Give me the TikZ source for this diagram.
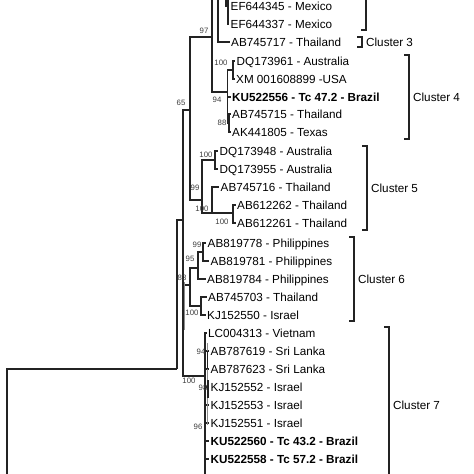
\documentclass[tikz,border=0pt]{standalone}
\usepackage{fontspec}
\setmainfont{Liberation Sans}
\usetikzlibrary{positioning}
\definecolor{treeline}{RGB}{35,35,35}
\definecolor{bootgray}{RGB}{60,60,60}
\tikzset{
  leaf/.style={
    anchor=west,
    inner xsep=1.5pt,
    inner ysep=0pt,
    text height=8.3pt,
    text depth=0pt,
    font=\fontsize{11.7}{13}\selectfont
  },
  brazilleaf/.style={leaf,font=\fontsize{11.7}{13}\selectfont\bfseries},
  boot/.style={inner sep=0pt,text=bootgray,font=\fontsize{7.8}{9}\selectfont},
  clusterlabel/.style={
    anchor=west,
    inner sep=0pt,
    text height=8.3pt,
    text depth=0pt,
    font=\fontsize{11.7}{13}\selectfont
  },
  branch/.style={line width=1.2pt,draw=treeline},
  overlap/.style={line width=1.6pt,draw=black!45},
  bracket/.style={line width=1.2pt,draw=treeline}
}
\newcommand{\clusterbracket}[5]{%
  \draw[bracket] (#1-5,#2) -- (#1,#2) -- (#1,#3) -- (#1-5,#3);
  \node[clusterlabel] (#4) at (#1+4,{(#2+#3)/2}) {#5};
}

\begin{document}
\begin{tikzpicture}[x=1pt,y=-1pt]
  \useasboundingbox (0,0) rectangle (474,474);

  % leaves
  \node[leaf] (ef45) at (229,6) {EF644345 - Mexico};
  \node[leaf] (ef37) at (229,24) {EF644337 - Mexico};
  \node[leaf] (ab17) at (229.5,42) {AB745717 - Thailand};
  \node[leaf] (dq61) at (235,61) {DQ173961 - Australia};
  \node[leaf] (xm99) at (234.5,79) {XM 001608899 -USA};
  \node[brazilleaf] (ku56) at (230.5,97) {KU522556 - Tc 47.2 - Brazil};
  \node[leaf] (ab15) at (230.5,114) {AB745715 - Thailand};
  \node[leaf] (ak05) at (230.5,132) {AK441805 - Texas};
  \node[leaf] (dq48) at (218,151) {DQ173948 - Australia};
  \node[leaf] (dq55) at (218,169) {DQ173955 - Australia};
  \node[leaf] (ab16) at (219,187) {AB745716 - Thailand};
  \node[leaf] (ab62) at (235.5,205) {AB612262 - Thailand};
  \node[leaf] (ab61) at (235.5,223) {AB612261 - Thailand};
  \node[leaf] (ab78) at (206,243) {AB819778 - Philippines};
  \node[leaf] (ab81) at (209,261) {AB819781 - Philippines};
  \node[leaf] (ab84) at (205.5,279) {AB819784 - Philippines};
  \node[leaf] (ab03) at (206.5,297) {AB745703 - Thailand};
  \node[leaf] (kj50) at (205.5,315) {KJ152550 - Israel};
  \node[leaf] (lc13) at (206.5,333) {LC004313 - Vietnam};
  \node[leaf] (ab19) at (209,351) {AB787619 - Sri Lanka};
  \node[leaf] (ab23) at (209,369) {AB787623 - Sri Lanka};
  \node[leaf] (kj52) at (209,387) {KJ152552 - Israel};
  \node[leaf] (kj53) at (209,405) {KJ152553 - Israel};
  \node[leaf] (kj51) at (209,423) {KJ152551 - Israel};
  \node[brazilleaf] (ku60) at (209,441) {KU522560 - Tc 43.2 - Brazil};
  \node[brazilleaf] (ku58) at (209,459) {KU522558 - Tc 57.2 - Brazil};

  % internal nodes
  \coordinate (rootbot) at (7,474);
  \coordinate (nA) at (177,369);
  \coordinate (nB) at (183,220);
  \coordinate (nU) at (190,110);
  \coordinate (nQ) at (212,37);
  \coordinate (nQtop) at (212,0);
  \coordinate (n12) at (218,20);
  \coordinate (n12top) at (218,0);
  \coordinate (nEF) at (228,15);
  \coordinate (nEFtop) at (228,0);
  \coordinate (mk1) at (225.5,0);
  \coordinate (mk2) at (225.5,7);
  \coordinate (c4) at (227.5,92);
  \coordinate (nDX) at (233,70);
  \coordinate (nAA) at (229,123);
  \coordinate (c5) at (202,200);
  \coordinate (nDQ) at (215,160);
  \coordinate (nY) at (212,213);
  \coordinate (nAB) at (233,213);
  \coordinate (c6) at (190,285);
  \coordinate (nPh) at (198,268);
  \coordinate (nPP) at (203,252);
  \coordinate (nTI) at (201,306);
  \coordinate (c7) at (205,376);
  \coordinate (c7bot) at (205,474);
  \coordinate (ov1) at (184.5,282);
  \coordinate (ov2) at (184.5,330);
  \coordinate (ov3) at (207.5,343);
  \coordinate (ov4) at (207.5,425);
  \coordinate (sl1) at (207.5,351);
  \coordinate (sl2) at (207.5,369);
  \coordinate (is1) at (208,380);
  \coordinate (is2) at (208,398);

  % branches
  \draw[branch] (rootbot) |- (nA);
  \draw[branch] (nA) |- (nB);
  \draw[branch] (nB) |- (nU);
  \draw[branch] (nB) |- (c6);
  \draw[branch] (nB) |- (c7);
  \draw[branch] (nU) |- (nQ);
  \draw[branch] (nU) |- (c5);
  \draw[branch] (nQtop) -- (nQ) |- (c4);
  \draw[branch] (n12top) -- (n12) |- (ab17.west);
  \draw[branch] (nEFtop) -- (nEF) |- (ef45.west);
  \draw[branch] (nEF) |- (ef37.west);
  \draw[line width=2pt,draw=treeline] (mk1) -- (mk2);
  \draw[branch] (c4) |- (nDX);
  \draw[branch] (c4) |- (ku56.west);
  \draw[branch] (c4) |- (nAA);
  \draw[branch] (nDX) |- (dq61.west);
  \draw[branch] (nDX) |- (xm99.west);
  \draw[branch] (nAA) |- (ab15.west);
  \draw[branch] (nAA) |- (ak05.west);
  \draw[branch] (c5) |- (nDQ);
  \draw[branch] (c5) |- (nY);
  \draw[branch] (nDQ) |- (dq48.west);
  \draw[branch] (nDQ) |- (dq55.west);
  \draw[branch] (nY) |- (ab16.west);
  \draw[branch] (nY) -- (nAB);
  \draw[branch] (nAB) |- (ab62.west);
  \draw[branch] (nAB) |- (ab61.west);
  \draw[branch] (c6) |- (nPh);
  \draw[branch] (c6) |- (nTI);
  \draw[branch] (nPh) |- (nPP);
  \draw[branch] (nPh) |- (ab84.west);
  \draw[branch] (nPP) |- (ab78.west);
  \draw[branch] (nPP) |- (ab81.west);
  \draw[branch] (nTI) |- (ab03.west);
  \draw[branch] (nTI) |- (kj50.west);
  \draw[branch] (c7) |- (lc13.west);
  \draw[branch] (c7) -- (c7bot);
  \draw[branch] (c7) |- (ab19.west);
  \draw[branch] (c7) |- (ab23.west);
  \draw[branch] (c7) |- (kj52.west);
  \draw[branch] (c7) |- (kj53.west);
  \draw[branch] (c7) |- (kj51.west);
  \draw[branch] (c7) |- (ku60.west);
  \draw[branch] (c7) |- (ku58.west);
  \draw[overlap] (ov1) -- (ov2);
  \draw[overlap,line width=1.2pt] (ov3) -- (ov4);
  \draw[branch] (sl1) -- (sl2);
  \draw[branch,line width=1.6pt] (is1) -- (is2);

  % bootstrap values
  \node[boot] (bs97) at (204,31) {97};
  \node[boot] (bsDX) at (221,63) {100};
  \node[boot] (bs94a) at (217,100) {94};
  \node[boot] (bs88) at (222,123) {88};
  \node[boot] (bs65) at (181,103) {65};
  \node[boot] (bsDQ) at (206,155) {100};
  \node[boot] (bs99a) at (195,188) {99};
  \node[boot] (bsY) at (202,209) {100};
  \node[boot] (bsAB) at (222,222) {100};
  \node[boot] (bs99b) at (197,245) {99};
  \node[boot] (bs95) at (190,259) {95};
  \node[boot] (bs83) at (182,278) {83};
  \node[boot] (bsTI) at (192,313) {100};
  \node[boot] (bs94b) at (201,352) {94};
  \node[boot] (bsC7) at (189,381) {100};
  \node[boot] (bs98) at (203,388) {98};
  \node[boot] (bs96) at (198,427) {96};

  % clusters
  \draw[bracket] (366,0) -- (366,30) -- (361,30);
  \clusterbracket{362}{37}{47}{cl3}{Cluster 3}
  \clusterbracket{409}{55}{139}{cl4}{Cluster 4}
  \clusterbracket{367}{146}{230}{cl5}{Cluster 5}
  \clusterbracket{354}{237}{321}{cl6}{Cluster 6}
  \draw[bracket] (384,327) -- (389,327) -- (389,474);
  \node[clusterlabel] (cl7) at (393,405) {Cluster 7};
\end{tikzpicture}
\end{document}
